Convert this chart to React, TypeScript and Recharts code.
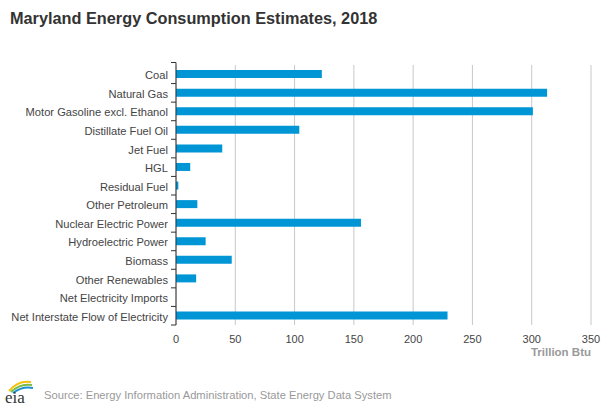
import React from 'react';
import { BarChart, Bar, XAxis, YAxis, CartesianGrid } from 'recharts';

const categories = [
  'Coal',
  'Natural Gas',
  'Motor Gasoline excl. Ethanol',
  'Distillate Fuel Oil',
  'Jet Fuel',
  'HGL',
  'Residual Fuel',
  'Other Petroleum',
  'Nuclear Electric Power',
  'Hydroelectric Power',
  'Biomass',
  'Other Renewables',
  'Net Electricity Imports',
  'Net Interstate Flow of Electricity',
];
const values = [123, 313, 301, 104, 39, 12, 2, 18, 156, 25, 47, 17, 0, 229];
const xTicks = [0, 50, 100, 150, 200, 250, 300, 350];

const data = categories.map((name, i) => ({ name, value: values[i] }));

const W = 612;
const H = 408;
const M = { top: 65, right: 21, bottom: 53, left: 10 };
const Y_W = 166;
const X_H = 30;
const PLOT_H = H - M.top - M.bottom - X_H;
const HALF_BAND = PLOT_H / categories.length / 2;
const AXIS_X = M.left + Y_W;
const FONT = '"Liberation Sans", Arial, sans-serif';

const YTick = (props: any) => {
  const { y, payload, index } = props;
  const ax = AXIS_X;
  const last = index === categories.length - 1;
  const first = index === 0;
  return (
    <g>
      <line
        x1={ax - 5}
        x2={ax}
        y1={first ? y - HALF_BAND - 2.5 : y - HALF_BAND}
        y2={first ? y - HALF_BAND - 2.5 : y - HALF_BAND}
        stroke="#333"
        strokeWidth={1}
      />
      {last && <line x1={ax - 5} x2={ax} y1={y + HALF_BAND} y2={y + HALF_BAND} stroke="#333" strokeWidth={1} />}
      <text x={ax - 8} y={y} dy={5} textAnchor="end" fontSize={11.15} fill="#444" fontFamily={FONT}>
        {payload.value}
      </text>
    </g>
  );
};

export default function App() {
  return (
    <div style={{ position: 'absolute', left: 0, top: 0, width: W, height: H, background: '#fff' }}>
      <BarChart
        width={W}
        height={H}
        data={data}
        layout="vertical"
        margin={M}
        barCategoryGap="27.5%"
      >
        <CartesianGrid horizontal={false} stroke="#c8c8c8" strokeWidth={1} />
        <XAxis
          type="number"
          domain={[0, 350]}
          ticks={xTicks}
          height={X_H}
          axisLine={false}
          tickLine={false}
          tickMargin={4}
          tick={{ fontSize: 11, fill: '#444', fontFamily: FONT }}
          interval={0}
        />
        <YAxis
          type="category"
          dataKey="name"
          width={Y_W}
          axisLine={false}
          tickLine={false}
          tickSize={0}
          tickMargin={0}
          tick={<YTick />}
          interval={0}
        />
        <Bar dataKey="value" fill="#0096d6" isAnimationActive={false} />
      </BarChart>
      <svg width={W} height={H} style={{ position: 'absolute', left: 0, top: 0, pointerEvents: 'none' }}>
        <line x1={AXIS_X} x2={AXIS_X} y1={M.top - 2.5} y2={M.top + PLOT_H} stroke="#333" strokeWidth={1} />
        <text x={10} y={24} fontSize={16.3} fontWeight="bold" fill="#333" fontFamily={FONT}>
          Maryland Energy Consumption Estimates, 2018
        </text>
        <text x={591} y={356} fontSize={11.5} fontWeight="bold" fill="#999" textAnchor="end" fontFamily={FONT}>
          Trillion Btu
        </text>
        <path d="M9,391 Q18,380 31,382" stroke="#f4c20d" strokeWidth={2} fill="none" />
        <path d="M11,392 Q20,383 32,385" stroke="#7dbb42" strokeWidth={2} fill="none" />
        <path d="M13,393 Q22,386 33,388" stroke="#1b8fd1" strokeWidth={2} fill="none" />
        <text x={5} y={403} fontSize={17} fill="#333" fontFamily='"Liberation Serif", serif'>
          eia
        </text>
        <text x={44} y={399} fontSize={11.2} fill="#999" fontFamily={FONT}>
          Source: Energy Information Administration, State Energy Data System
        </text>
      </svg>
    </div>
  );
}
